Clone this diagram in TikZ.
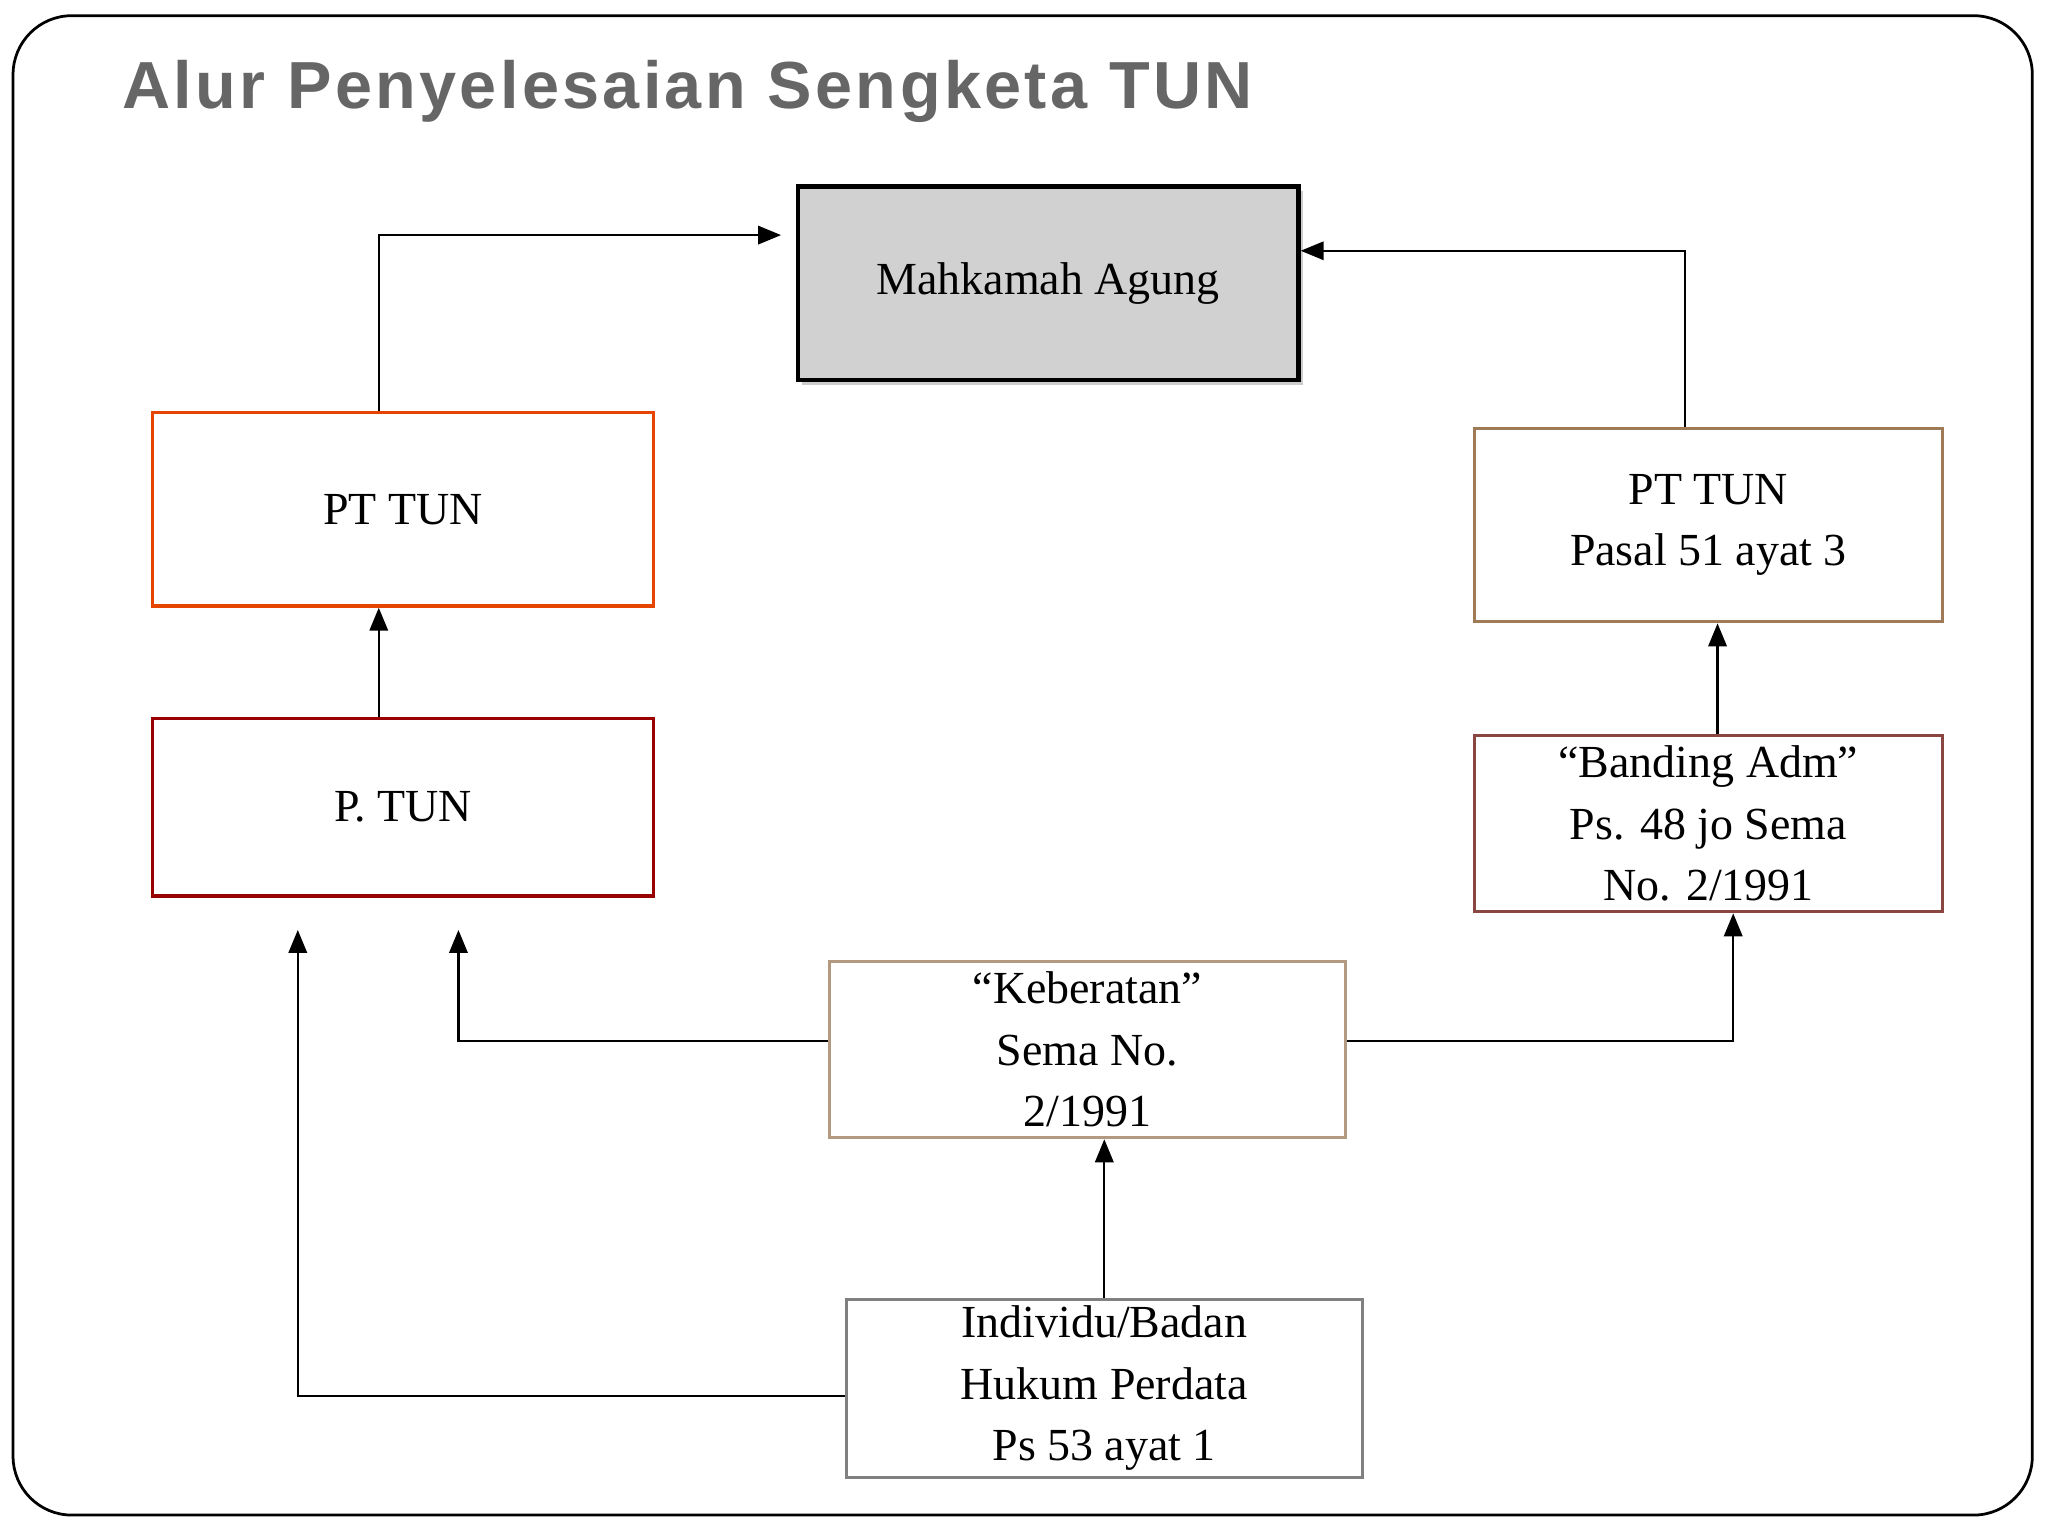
\documentclass[tikz,border=0pt]{standalone}
\usepackage{fontspec}
\setmainfont{Liberation Serif}
\newfontfamily\titlefont[LetterSpace=5]{Liberation Sans}
\usetikzlibrary{arrows.meta,shadows}
\begin{document}
\begin{tikzpicture}[x=0.01cm,y=-0.01cm,
  box/.style={draw,line width=0.7pt,fill=white,align=center,font=\fontsize{10}{13.4}\selectfont,inner sep=0pt},
  conn/.style={line width=0.5pt,-{Triangle[length=5pt,width=4pt]}}]
\useasboundingbox (0,0) rectangle (1568,1176);
\draw[rounded corners=0.45cm,line width=0.6pt] (10,12) rectangle (1556,1160);
\node[anchor=base west,inner sep=0pt,text=black!60,font=\titlefont\bfseries\fontsize{14.5}{17}\selectfont] (title) at (93,83) {Alur Penyelesaian Sengketa TUN};
\node[box,fill=black!18,line width=1pt,drop shadow={shadow xshift=1pt,shadow yshift=-1pt,opacity=0.4},minimum width=3.83cm,minimum height=1.48cm] (ma) at (802.5,217) {Mahkamah Agung};
\node[box,draw=orange!60!red!90!black,minimum width=3.83cm,minimum height=1.48cm] (ptl) at (308.5,390) {PT TUN};
\node[box,draw=red!60!black,minimum width=3.83cm,minimum height=1.36cm] (ptun) at (308.5,618) {P. TUN};
\node[box,draw=brown!70!black!80,minimum width=3.58cm,minimum height=1.48cm] (ptr) at (1308,402) {PT TUN\\Pasal 51 ayat 3};
\node[box,draw=violet!30!brown!80!black,minimum width=3.58cm,minimum height=1.35cm] (band) at (1308,630.5) {\rule{0pt}{5pt}``Banding Adm''\\Ps. 48 jo Sema\\No. 2/1991};
\node[box,draw=brown!50!white!80!black,minimum width=3.95cm,minimum height=1.35cm] (keb) at (832.5,803.5) {``Keberatan''\\Sema No.\\2/1991};
\node[box,draw=black!50,minimum width=3.95cm,minimum height=1.36cm] (ind) at (845.5,1063) {Individu/Badan\\Hukum Perdata\\Ps 53 ayat 1};
\coordinate (c1) at (290,180); \coordinate (c1e) at (598,180);
\coordinate (c2) at (1290,192);
\coordinate (c3) at (351,797); \coordinate (c3e) at (351,712);
\coordinate (c4) at (1327,797);
\coordinate (c5) at (228,1069); \coordinate (c5e) at (228,712);
\draw[conn] (ptl.north -| c1) -- (c1) -- (c1e);
\draw[conn] (ptr.north -| c2) -- (c2) -- (c2 -| ma.east);
\draw[conn] (ptun.north -| c1) -- (ptl.south -| c1);
\draw[conn] (band.north -| 1315,0) -- (ptr.south -| 1315,0);
\draw[conn] (keb.west |- c3) -- (c3) -- (c3e);
\draw[conn] (keb.east |- c4) -- (c4) -- (band.south -| c4);
\draw[conn] (ind.north) -- (ind.north |- keb.south);
\draw[conn] (ind.west |- c5) -- (c5) -- (c5e);
\end{tikzpicture}
\end{document}
